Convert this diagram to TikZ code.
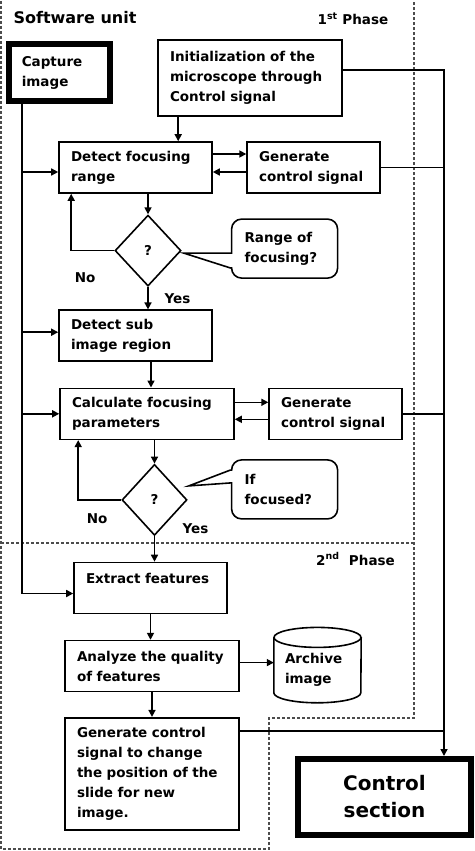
\documentclass[tikz,border=0pt]{standalone}
\usepackage{fontspec}
\setmainfont{DejaVu Sans}
\usepackage{tikz}
\usetikzlibrary{positioning, shapes.geometric, arrows.meta}

\newcommand\flowfont{\fontsize{13.5}{20}\selectfont\bfseries}
\newcommand\bigflowfont{\fontsize{20}{27}\selectfont\bfseries}

\tikzset{
    stage/.style={draw, line width=1.6pt, align=left, text width=#1, inner xsep=12pt, inner ysep=0pt, minimum height=51pt, font=\flowfont},
    thickbox/.style={draw, line width=6pt, outer sep=3pt, inner ysep=0pt},
    decide/.style={draw, diamond, line width=1.6pt, minimum width=66pt, minimum height=71pt, inner sep=0pt, font=\flowfont},
    bubble/.style={draw, line width=1.6pt, rounded corners=10pt, align=left, text width=80pt, inner xsep=13pt, minimum height=59pt, font=\flowfont},
    tag/.style={inner sep=0pt, font=\flowfont},
    arr/.style={line width=1.6pt, -{Triangle[length=7pt, width=7pt]}},
    link/.style={line width=1.6pt},
    zone/.style={line width=1.2pt, dash pattern=on 3pt off 2pt, black!70},
}

\begin{document}
\begin{tikzpicture}[x=1pt, y=-1pt]
    \useasboundingbox (0,0) rectangle (474,851);
    % software unit frame and phase divider
    \draw[zone] (1,-4) -- (1,849) -- (269,849) -- (269,718) -- (414,718) -- (414,-4);
    \draw[zone] (1,543) -- (414,543);
    \node[font=\fontsize{16}{19}\selectfont\bfseries] (unit) at (75,18) {Software unit}; % frame title
    \node[tag] (phase1) at (353,19) {1\textsuperscript{st} Phase}; % top phase label
    \node[tag] (phase2) at (355.5,559) {2\textsuperscript{nd}\ \ Phase}; % lower phase label

    % first phase
    \node[stage=75pt, thickbox, inner xsep=13pt, minimum height=56pt] (capture) at (59.3,72.5) {Capture\\image}; % image source
    \node[stage=160pt, minimum height=76pt] (init) at (250,78) {Initialization of the\\microscope through\\Control signal}; % start box
    \node[stage=129pt] (detect) at (135.5,167.5) {Detect focusing\\range}; % first step
    \node[stage=109pt, right=33.5pt of detect] (gen1) {Generate\\control signal}; % upper signal box
    \node[decide, below=20.5pt of detect, xshift=12.5pt] (dia1) {?}; % range check
    \node[bubble, right=49pt of dia1, yshift=2pt] (call1) {Range of\\focusing?}; % question bubble
    \node[stage=129pt, below=22.5pt of dia1, xshift=-12.5pt] (sub) {Detect sub\\image region}; % sub region
    \node[stage=150pt, below=25.5pt of sub, xshift=11.5pt] (calc) {Calculate focusing\\parameters}; % parameters
    \node[stage=109pt, right=33.5pt of calc] (gen2) {Generate\\control signal}; % lower signal box
    \node[decide, minimum width=65pt, below=23.5pt of calc, xshift=7.5pt] (dia2) {?}; % focus check
    \node[bubble, right=43pt of dia2, yshift=10.5pt] (call2) {If\\focused?}; % question bubble

    % second phase
    \node[stage=129pt, below=25.5pt of dia2, xshift=-4pt] (extract) {Extract features\\\mbox{}}; % features
    \node[stage=150pt, below=25.5pt of extract, xshift=1.5pt] (analyze) {Analyze the quality\\of features}; % quality
    \node[tag, align=left, text width=65pt, inner xsep=11pt, minimum width=87pt, minimum height=65pt, right=34pt of analyze, yshift=-4pt] (archive) {Archive\\image}; % store
    \node[stage=150pt, minimum height=112pt, below=24.5pt of analyze] (gen3) {Generate control\\signal to change\\the position of the\\slide for new\\image.}; % last step
    \node[thickbox, align=center, font=\bigflowfont, minimum width=173pt, minimum height=76pt] (control) at (384.5,797) {Control\\section}; % hardware side

    % archive drum
    \draw[link] (archive.north) ellipse [x radius=43.5pt, y radius=10pt];
    \draw[link] (archive.north west) -- ([yshift=10pt]archive.south west) arc[start angle=180, end angle=360, x radius=43.5pt, y radius=10pt] -- (archive.north east);

    % helper points
    \coordinate (capline) at ([xshift=16pt]capture.south west);
    \coordinate (ctlin) at ([xshift=59.5pt]control.north);
    \coordinate (initout) at ([xshift=21pt]init.south west);
    \coordinate (no1in) at ([xshift=13pt]detect.south west);
    \coordinate (subout) at ([xshift=15.5pt]sub.south);
    \coordinate (no2in) at ([xshift=19pt]calc.south west);
    \coordinate (tip1) at ([xshift=2pt, yshift=-2.5pt]dia1.east);
    \coordinate (tip2) at ([xshift=1pt, yshift=14pt]dia2.east);
    \coordinate (archin) at ([yshift=3.5pt]analyze.east);
    \coordinate (gen3out) at ([yshift=-14pt]gen3.north east);
    \coordinate (detin) at ([yshift=-4.5pt]detect.west);
    \coordinate (subin) at ([yshift=3.5pt]sub.west);
    \coordinate (extin) at ([yshift=-5.5pt]extract.west);

    % flow
    \draw[arr] (initout) -- (initout |- detect.north);
    \draw[arr] ([yshift=13.5pt]detect.east) -- ([yshift=13.5pt]gen1.west);
    \draw[arr] ([yshift=-4.5pt]gen1.west) -- ([yshift=-4.5pt]detect.east);
    \draw[arr] (detect.south -| dia1.north) -- (dia1.north);
    \draw[arr] (dia1.west) -| (no1in);
    \draw[arr] (dia1.south) -- (dia1.south |- sub.north);
    \draw[arr] (subout) -- (subout |- calc.north);
    \draw[arr] ([yshift=11.5pt]calc.east) -- ([yshift=11.5pt]gen2.west);
    \draw[arr] ([yshift=-5.5pt]gen2.west) -- ([yshift=-5.5pt]calc.east);
    \draw[arr] (calc.south -| dia2.north) -- (dia2.north);
    \draw[arr] (dia2.west) -| (no2in);
    \draw[arr] (dia2.south) -- (dia2.south |- extract.north);
    \draw[arr] (extract.south) -- (extract.south |- analyze.north);
    \draw[arr] (archin) -- (archin -| archive.west);
    \draw[arr] (analyze.south) -- (analyze.south |- gen3.north);

    % captured image feed
    \draw[arr] (capline) |- (extin);
    \draw[arr] (capline |- detin) -- (detin);
    \draw[arr] (capline |- subin) -- (subin);
    \draw[arr] (capline |- calc.west) -- (calc.west);

    % control bus
    \draw[arr] ([yshift=8pt]init.east) -| (ctlin);
    \draw[link] (gen1.east) -- (gen1.east -| ctlin);
    \draw[link] (gen2.east) -- (gen2.east -| ctlin);
    \draw[link] (gen3out) -- (gen3out -| ctlin);

    % bubble pointers
    \draw[white, line width=2.6pt] ([xshift=0.8pt, yshift=-5.5pt]call1.west) -- ([xshift=0.8pt, yshift=-18.5pt]call1.west);
    \draw[link] ([yshift=-4.5pt]call1.west) -- (tip1) -- ([yshift=-19.5pt]call1.west);
    \draw[white, line width=2.6pt] ([xshift=0.8pt, yshift=18.5pt]call2.west) -- ([xshift=0.8pt, yshift=7.5pt]call2.west);
    \draw[link] ([yshift=19.5pt]call2.west) -- (tip2) -- ([yshift=6.5pt]call2.west);

    % branch labels
    \node[tag] (no1) at ([xshift=-29pt, yshift=-27.5pt]dia1.west) {No};
    \node[tag] (yes1) at ([xshift=29.5pt, yshift=-11.5pt]dia1.south) {Yes};
    \node[tag] (no2) at ([xshift=-24pt, yshift=-19pt]dia2.west) {No};
    \node[tag] (yes2) at ([xshift=41pt, yshift=7.5pt]dia2.south) {Yes};
\end{tikzpicture}
\end{document}
